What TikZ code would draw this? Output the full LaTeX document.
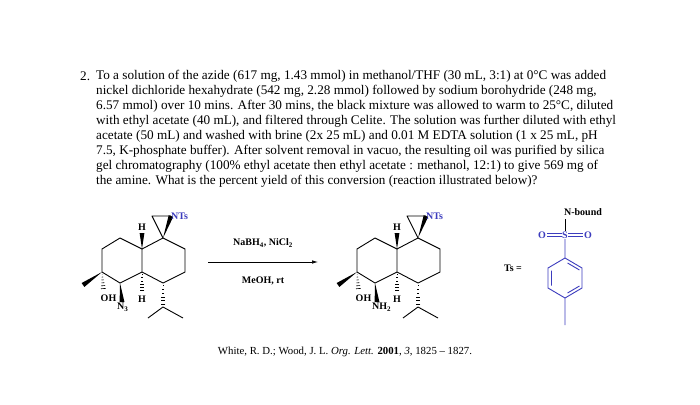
\documentclass[tikz,border=0pt]{standalone}
\usepackage{fontspec}
\setmainfont{Liberation Serif}
\usetikzlibrary{calc,arrows.meta}
\definecolor{tsblue}{RGB}{60,60,190}
\newcommand\wdg[2]{\fill (#1) -- ($(#2)!2.4pt!90:(#1)$) -- ($(#2)!2.4pt!-90:(#1)$) -- cycle;}
\newcommand\hsh[2]{\foreach \t in {0.12,0.28,...,0.95}{\path ($(#1)!\t!(#2)$) coordinate (hp);
  \draw[line width=0.6pt] ($(hp)!{\t*2.6pt}!90:(#2)$) -- ($(hp)!{\t*2.6pt}!-90:(#2)$);}}
\newcommand\lbl{\fontsize{10}{11}\selectfont\bfseries}
\newcommand\mol[2]{\begin{scope}[shift={(#1,0)}]
 \coordinate (a1) at (120,238); \coordinate (a2) at (102,249); \coordinate (a3) at (102,272);
 \coordinate (a4) at (120,283); \coordinate (a5) at (142,272); \coordinate (a6) at (142,249);
 \coordinate (b1) at (163,238); \coordinate (b2) at (185,249); \coordinate (b3) at (185,272);
 \coordinate (b4) at (163,283);
 \draw[bond] (a1)--(a2)--(a3)--(a4)--(a5)--(a6)--cycle (a6)--(b1)--(b2)--(b3)--(b4)--(a5);
 \coordinate (az) at (152,216); \coordinate (an) at (171,216);
 \draw[bond] (b1)--(az)--(an);
 \wdg{b1}{an}
 \node[anchor=west,text=tsblue,inner sep=0pt] at (171,216.5) {\lbl NTs};
 \wdg{a6}{142,233} \node[inner sep=0pt] at (142,227) {\lbl H};
 \hsh{a5}{142,292} \node[inner sep=0pt] at (142,299) {\lbl H};
 \wdg{a3}{83,285}
 \hsh{a3}{103.5,290} \node[inner sep=0pt] at (108.5,298) {\lbl OH};
 \wdg{a4}{122,302} \node[inner sep=0pt,anchor=north west] at (117,303) {\lbl #2};
 \hsh{b4}{163,306} \coordinate (ip) at (163,307);
 \draw[bond] (ip)--(148,318) (ip)--(183,318);
\end{scope}}
\begin{document}
\begin{tikzpicture}[x=1pt,y=-1pt,bond/.style={line width=0.9pt,line join=round},
 para/.style={anchor=west,inner sep=0pt,font=\fontsize{13.2}{14}\selectfont}]
\useasboundingbox (0,0) rectangle (700,404);
\fill[white] (0,0) rectangle (700,404);
\node[para] at (80,76) {2.};
\foreach \y/\s in {76/{To a solution of the azide (617 mg, 1.43 mmol) in methanol/THF (30 mL, 3:1) at 0\textdegree C was added},
 91/{nickel dichloride hexahydrate (542 mg, 2.28 mmol) followed by sodium borohydride (248 mg,},
 106/{6.57 mmol) over 10 mins. After 30 mins, the black mixture was allowed to warm to 25\textdegree C, diluted},
 121/{with ethyl acetate (40 mL), and filtered through Celite. The solution was further diluted with ethyl},
 136/{acetate (50 mL) and washed with brine (2x 25 mL) and 0.01 M EDTA solution (1 x 25 mL, pH},
 151/{7.5, K-phosphate buffer). After solvent removal in vacuo, the resulting oil was purified by silica},
 166/{gel chromatography (100\% ethyl acetate then ethyl acetate : methanol, 12:1) to give 569 mg of},
 181/{the amine. What is the percent yield of this conversion (reaction illustrated below)?}}
 \node[para] at (96,\y) {\s};
\mol{0}{N\textsubscript{3}}
\mol{255}{NH\textsubscript{2}}
\coordinate (r1) at (208,262); \coordinate (r2) at (318,262);
\draw[line width=0.7pt,-{Latex[length=6pt,width=3.5pt]}] (r1) -- (r2);
\node[inner sep=0pt] at (263,243) {\lbl NaBH\textsubscript{4}, NiCl\textsubscript{2}};
\node[inner sep=0pt] at (263,281) {\lbl MeOH, rt};
% Ts
\node[inner sep=0pt] at (513,268) {\lbl Ts =};
\node[inner sep=0pt] at (583,212) {\lbl N-bound};
\begin{scope}[draw=tsblue,text=tsblue]
\node[inner sep=0.5pt] (S) at (565,235) {\lbl S};
\node[inner sep=0.5pt] (O1) at (542,235) {\lbl O};
\node[inner sep=0.5pt] (O2) at (588,235) {\lbl O};
\draw[bond,black] (565,219) -- (S);
\draw[bond] ([yshift=-1.3pt]S.west) -- ([yshift=-1.3pt]O1.east) ([yshift=1.3pt]S.west) -- ([yshift=1.3pt]O1.east);
\draw[bond] ([yshift=-1.3pt]S.east) -- ([yshift=-1.3pt]O2.west) ([yshift=1.3pt]S.east) -- ([yshift=1.3pt]O2.west);
\coordinate (t1) at (565,258); \coordinate (t2) at (582,268); \coordinate (t3) at (582,288);
\coordinate (t4) at (565,298); \coordinate (t5) at (548,288); \coordinate (t6) at (548,268);
\draw[bond] (S) -- (t1) (t1)--(t2)--(t3)--(t4)--(t5)--(t6)--cycle (t4) -- (565,325);
\draw[bond] (551.5,270.5)--(551.5,285.5) ($(t1)!0.15!(t2)+(0,3.5)$)--($(t1)!0.85!(t2)+(0,3.5)$)
  ($(t3)!0.15!(t4)+(0,-3.5)$)--($(t3)!0.85!(t4)+(0,-3.5)$);
\end{scope}
\node[inner sep=0pt] at (345,352) {\fontsize{10.8}{12}\selectfont White, R. D.; Wood, J. L. \textit{Org. Lett.} \textbf{2001}, \textit{3}, 1825 -- 1827.};
\end{tikzpicture}
\end{document}
